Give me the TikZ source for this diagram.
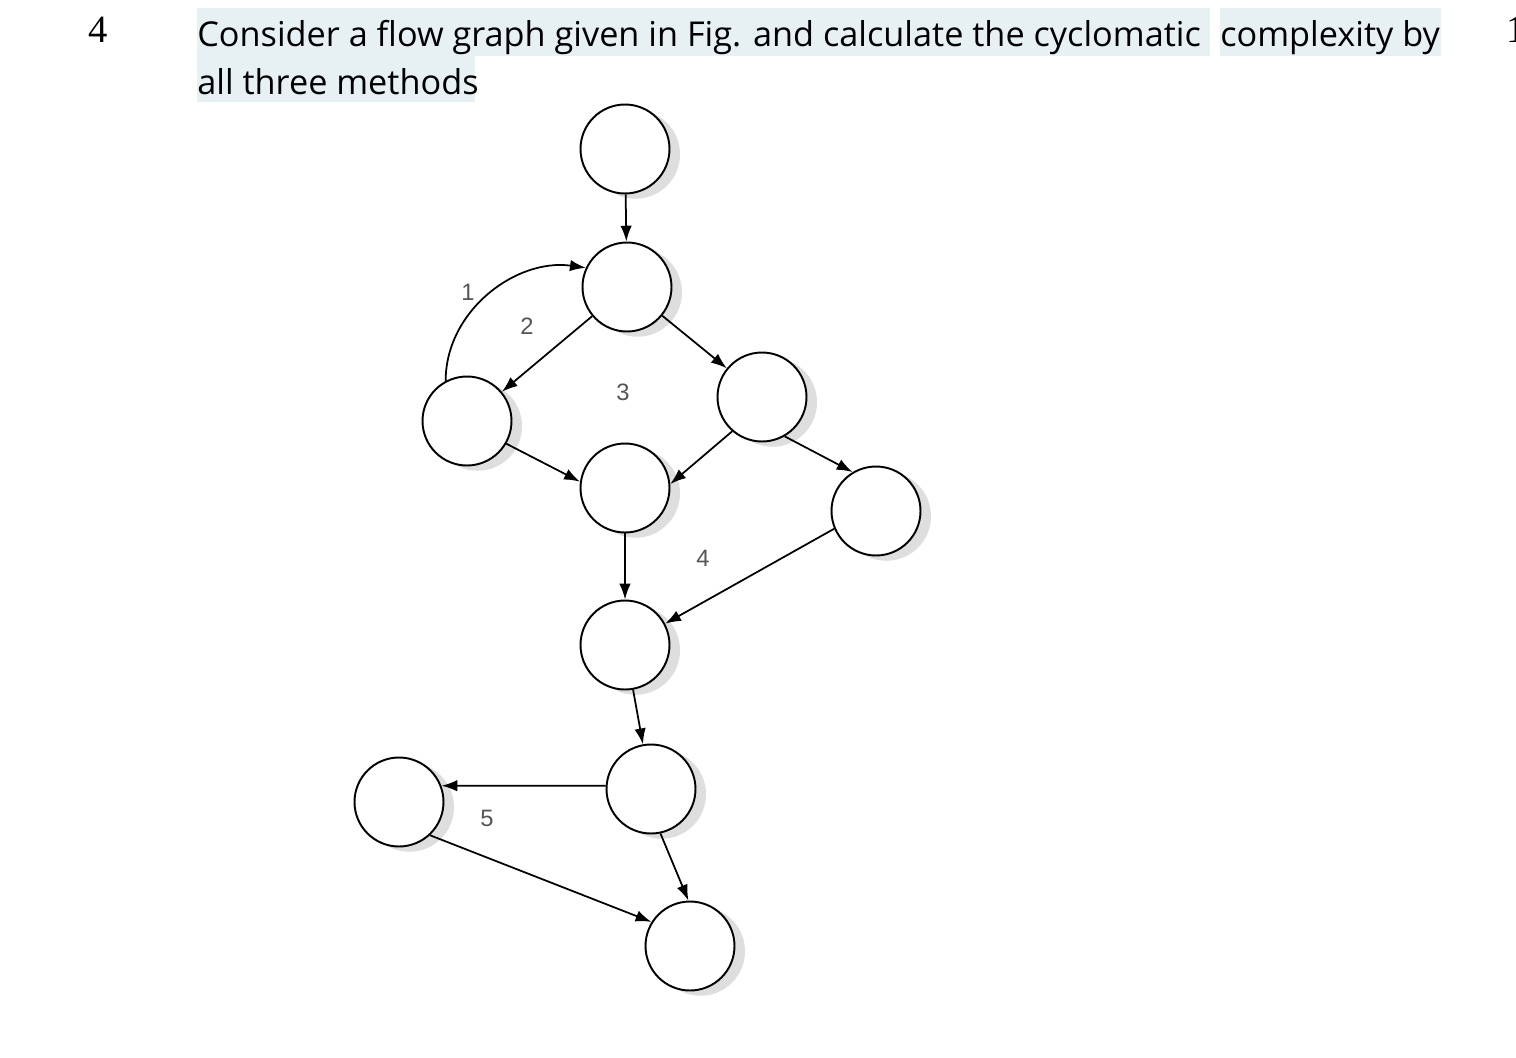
\documentclass[tikz,border=0pt]{standalone}
\usepackage{fontspec}
\setmainfont{Liberation Serif}
\newfontfamily\qfont{Open Sans}
\newfontfamily\lblfont{Liberation Sans}
\usetikzlibrary{arrows.meta,shadows}
\definecolor{hilite}{RGB}{231,241,244}
\definecolor{lblgray}{RGB}{85,85,85}
\tikzset{
  vtx/.style={circle,draw,line width=1.1pt,fill=white,minimum size=1.78cm,inner sep=0pt,
    drop shadow={shadow xshift=6pt,shadow yshift=-3pt,fill=black!13,opacity=1}},
  flow/.style={->,line width=1pt},
  lbl/.style={font=\lblfont\fontsize{13.5}{14}\selectfont,text=lblgray},
  qtext/.style={anchor=base west,inner sep=0pt,font=\qfont\fontsize{19.5}{24}\selectfont},
  qnum/.style={anchor=base west,inner sep=0pt,font=\fontsize{22}{24}\selectfont}
}

\begin{document}
\begin{tikzpicture}[x=0.02cm,y=0.02cm,>={Latex[length=9pt,width=6.5pt]}]
   \useasboundingbox (0,0) rectangle (1516,-1058);
   % question text
   \fill[hilite] ( 197,  -8) rectangle (1210, -56);
   \fill[hilite] (1220,  -8) rectangle (1441, -56);
   \fill[hilite] ( 197, -56) rectangle ( 475,-102);
   \node[qnum]  (qno)  at (  88, -42) {4};
   \node[qnum]  (mark) at (1506, -42) {1};
   \node[qtext] (q1)   at ( 197, -47) {Consider a flow graph given in Fig. and calculate the cyclomatic};
   \node[qtext] (q2)   at (1220, -47) {complexity by};
   \node[qtext] (q3)   at ( 197, -94) {all three methods};
   % flow graph nodes
   \node[vtx] (n1)  at (625,-149) {};
   \node[vtx] (n2)  at (627,-287) {};
   \node[vtx] (n3)  at (467,-421) {};
   \node[vtx] (n4)  at (762,-397) {};
   \node[vtx] (n5)  at (625,-488) {};
   \node[vtx] (n6)  at (876,-511) {};
   \node[vtx] (n7)  at (625,-645) {};
   \node[vtx] (n8)  at (651,-789) {};
   \node[vtx] (n9)  at (399,-802) {};
   \node[vtx] (n10) at (690,-946) {};
   % edges
   \draw[flow] (n1) -- (n2);
   \draw[flow] (n2) -- (n4);
   \draw[flow] (n2) -- (n3);
   \draw[flow] (n3.118) to[out=90,in=172] (n2.155);
   \draw[flow] (n3.-30) -- (n5.172);
   \draw[flow] (n4.-131) -- (n5.5);
   \draw[flow] (n4.-60) -- (n6.121);
   \draw[flow] (n5) -- (n7);
   \draw[flow] (n6.203) -- (n7.28);
   \draw[flow] (n7) -- (n8);
   \draw[flow] (n8.176) -- (n9.21);
   \draw[flow] (n8.-78) -- (n10.92);
   \draw[flow] (n9.-47) -- (n10.148);
   % region labels
   \node[lbl] (r1) at (468,-292) {1};
   \node[lbl] (r2) at (527,-326) {2};
   \node[lbl] (r3) at (623,-392) {3};
   \node[lbl] (r4) at (703,-558) {4};
   \node[lbl] (r5) at (487,-818) {5};
\end{tikzpicture}
\end{document}
